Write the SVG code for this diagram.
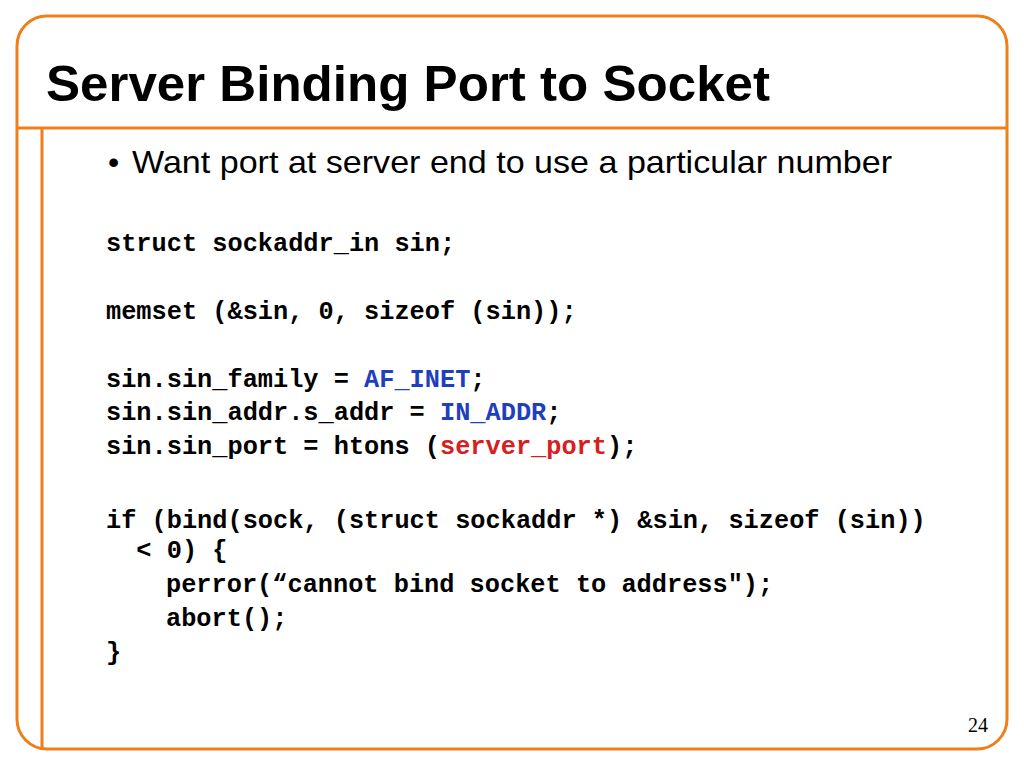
<svg xmlns="http://www.w3.org/2000/svg" width="1024" height="768" viewBox="0 0 1024 768">
<style>
.fr{fill:none;stroke:#EF7F1A;stroke-width:3}
.c{font-family:"Liberation Mono",monospace;font-weight:bold;font-size:25.3px;fill:#000;white-space:pre}
.b{fill:#1F3FBF}.r{fill:#D62020}
</style>
<rect width="1024" height="768" fill="#fff"/>
<g id="frame">
<rect class="fr" x="17" y="16" width="990" height="733" rx="30"/>
<line class="fr" x1="17" y1="128" x2="1007" y2="128"/>
<line class="fr" x1="42" y1="128" x2="42" y2="749"/>
</g>
<g id="title"><text x="46" y="101" font-family="Liberation Sans,Arial,sans-serif" font-weight="bold" font-size="50" textLength="724" lengthAdjust="spacingAndGlyphs">Server Binding Port to Socket</text></g>
<g id="bullet"><text x="108" y="173" font-family="Liberation Sans,Arial,sans-serif" font-size="32">•</text><text x="132" y="173" font-family="Liberation Sans,Arial,sans-serif" font-size="32" textLength="760" lengthAdjust="spacingAndGlyphs">Want port at server end to use a particular number</text></g>
<g id="code">
<text class="c" x="106" y="251">struct sockaddr_in sin;</text>
<text class="c" x="106" y="319">memset (&amp;sin, 0, sizeof (sin));</text>
<text class="c" x="106" y="387">sin.sin_family = <tspan class="b">AF_INET</tspan>;</text>
<text class="c" x="106" y="420">sin.sin_addr.s_addr = <tspan class="b">IN_ADDR</tspan>;</text>
<text class="c" x="106" y="454">sin.sin_port = htons (<tspan class="r">server_port</tspan>);</text>
<text class="c" x="106" y="528">if (bind(sock, (struct sockaddr *) &amp;sin, sizeof (sin))</text>
<text class="c" x="106" y="558">  &lt; 0) {</text>
<text class="c" x="166" y="592">perror(“cannot bind socket to address");</text>
<text class="c" x="166" y="626">abort();</text>
<text class="c" x="106" y="660">}</text>
</g>
<g id="page"><text x="988" y="732" text-anchor="end" font-family="Liberation Serif,serif" font-size="20">24</text></g>
</svg>
